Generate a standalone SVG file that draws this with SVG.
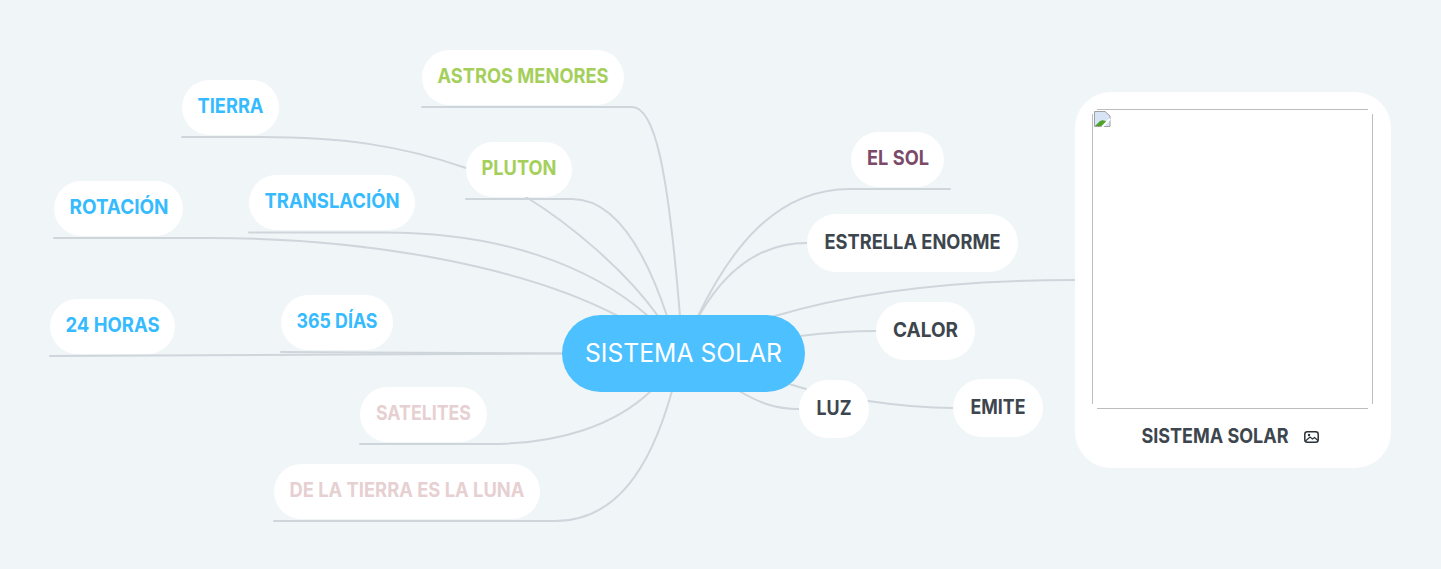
<svg xmlns="http://www.w3.org/2000/svg" width="1441" height="569" viewBox="0 0 1441 569">
<style>
.c{fill:none;stroke:#cfd6db;stroke-width:2;stroke-linecap:round}
.n{fill:#fff}
text{font-family:"Inter","Noto Sans",sans-serif;font-weight:700;font-size:20px;text-anchor:middle}
.b{fill:#36bbff}.g{fill:#a5cf5b}.p{fill:#e6d0d2}.d{fill:#3d464e}.m{fill:#7b4a68}
</style>
<rect width="1441" height="569" fill="#f0f5f8"/>
<g id="connectors">
<path class="c" d="M422 107H632C655 107 668 170 680 316"/>
<path class="c" d="M466 199H572C615 199 645 250 667 316"/>
<path class="c" d="M526 197C570 224 625 270 658 316"/>
<path class="c" d="M182 137H262C340 137 400 145 466 168"/>
<path class="c" d="M249 232.500H385C500 232.500 590 265 648 316"/>
<path class="c" d="M54 238H210C380 238 530 270 618 316"/>
<path class="c" d="M50 356C240 356 400 353.500 562 353.500"/>
<path class="c" d="M281 352C400 352 480 353.500 562 353.500"/>
<path class="c" d="M360 444H490C560 444 615 425 651 391"/>
<path class="c" d="M274 521H555C615 521 650 470 672 391"/>
<path class="c" d="M950 189H850C775 189 730 250 698 316"/>
<path class="c" d="M807 243C760 243 725 270 699 316"/>
<path class="c" d="M1075 280C960 280 855 292 775 316"/>
<path class="c" d="M876 331C850 331 825 333 800 336"/>
<path class="c" d="M799 409C775 409 760 403 739 391"/>
<path class="c" d="M789 384L806 389"/>
<path class="c" d="M953 408C920 408 895 405 868 401"/>
</g>
<g id="central"><rect x="562" y="315" width="243" height="77" rx="38.500" fill="#4dc1ff"/><text x="683.500" y="362" style="font-weight:400;font-size:25px;fill:#fff" textLength="197" lengthAdjust="spacingAndGlyphs">SISTEMA SOLAR</text></g>
<g id="astros"><rect class="n" x="422" y="50" width="202" height="55" rx="27.500"/><text class="g" x="523" y="83" textLength="171" lengthAdjust="spacingAndGlyphs">ASTROS MENORES</text></g>
<g id="tierra"><rect class="n" x="182" y="80" width="97" height="55" rx="27.500"/><text class="b" x="230.500" y="113" textLength="66" lengthAdjust="spacingAndGlyphs">TIERRA</text></g>
<g id="pluton"><rect class="n" x="466" y="142" width="106" height="55" rx="27.500"/><text class="g" x="519" y="175" textLength="75" lengthAdjust="spacingAndGlyphs">PLUTON</text></g>
<g id="rotacion"><rect class="n" x="54" y="181" width="129" height="55" rx="27.500"/><text class="b" x="119" y="214" textLength="99" lengthAdjust="spacingAndGlyphs">ROTACIÓN</text></g>
<g id="translacion"><rect class="n" x="249" y="175" width="166" height="55" rx="27.500"/><text class="b" x="332" y="208" textLength="135" lengthAdjust="spacingAndGlyphs">TRANSLACIÓN</text></g>
<g id="horas"><rect class="n" x="50" y="299" width="125" height="55" rx="27.500"/><text class="b" x="112.500" y="332" textLength="94" lengthAdjust="spacingAndGlyphs">24 HORAS</text></g>
<g id="dias"><rect class="n" x="281" y="295" width="112" height="55" rx="27.500"/><text class="b" x="337" y="328" textLength="81" lengthAdjust="spacingAndGlyphs">365 DÍAS</text></g>
<g id="satelites"><rect class="n" x="360" y="387" width="127" height="55" rx="27.500"/><text class="p" x="423.500" y="420" textLength="95" lengthAdjust="spacingAndGlyphs">SATELITES</text></g>
<g id="luna"><rect class="n" x="274" y="464" width="266" height="55" rx="27.500"/><text class="p" x="407" y="497" textLength="235" lengthAdjust="spacingAndGlyphs">DE LA TIERRA ES LA LUNA</text></g>
<g id="sol"><rect class="n" x="851" y="132" width="93" height="55" rx="27.500"/><text class="m" x="898" y="165" textLength="62" lengthAdjust="spacingAndGlyphs">EL SOL</text></g>
<g id="estrella"><rect class="n" x="807" y="214" width="211" height="58" rx="29"/><text class="d" x="912.500" y="249" textLength="176" lengthAdjust="spacingAndGlyphs">ESTRELLA ENORME</text></g>
<g id="calor"><rect class="n" x="876" y="302" width="99" height="58" rx="29"/><text class="d" x="925.500" y="337" textLength="65" lengthAdjust="spacingAndGlyphs">CALOR</text></g>
<g id="luz"><rect class="n" x="799" y="380" width="70" height="58" rx="29"/><text class="d" x="834" y="415" textLength="35" lengthAdjust="spacingAndGlyphs">LUZ</text></g>
<g id="emite"><rect class="n" x="953" y="379" width="90" height="58" rx="29"/><text class="d" x="998" y="414" textLength="55" lengthAdjust="spacingAndGlyphs">EMITE</text></g>
<g id="imagen">
<rect class="n" x="1075" y="92" width="316" height="376" rx="36"/>
<path d="M1097 109.500H1368M1097 408.500H1368M1092.500 114V404M1372.500 114V404" fill="none" stroke="#bdbdbd" stroke-width="1"/>
<path d="M1094.500 111.500H1105L1110 116V126.500H1094.500Z" fill="#d6e4f5" stroke="#a0a0a0"/>
<path d="M1095 126L1100 121C1103 119 1106 121 1107 122L1103 126Z" fill="#4fa32c"/>
<path d="M1102 127L1110 119" stroke="#fff" stroke-width="2"/>
<text class="d" x="1215" y="443" textLength="147" lengthAdjust="spacingAndGlyphs">SISTEMA SOLAR</text>
<rect x="1304.800" y="431.800" width="13.400" height="10.400" rx="2.500" fill="none" stroke="#2b333a" stroke-width="1.500"/>
<circle cx="1309" cy="435" r="1.200" fill="#2b333a"/>
<path d="M1305.500 441L1310 437L1312.500 439L1314.500 437.500L1318 440.500" fill="none" stroke="#2b333a" stroke-width="1.200"/>
</g>
</svg>
